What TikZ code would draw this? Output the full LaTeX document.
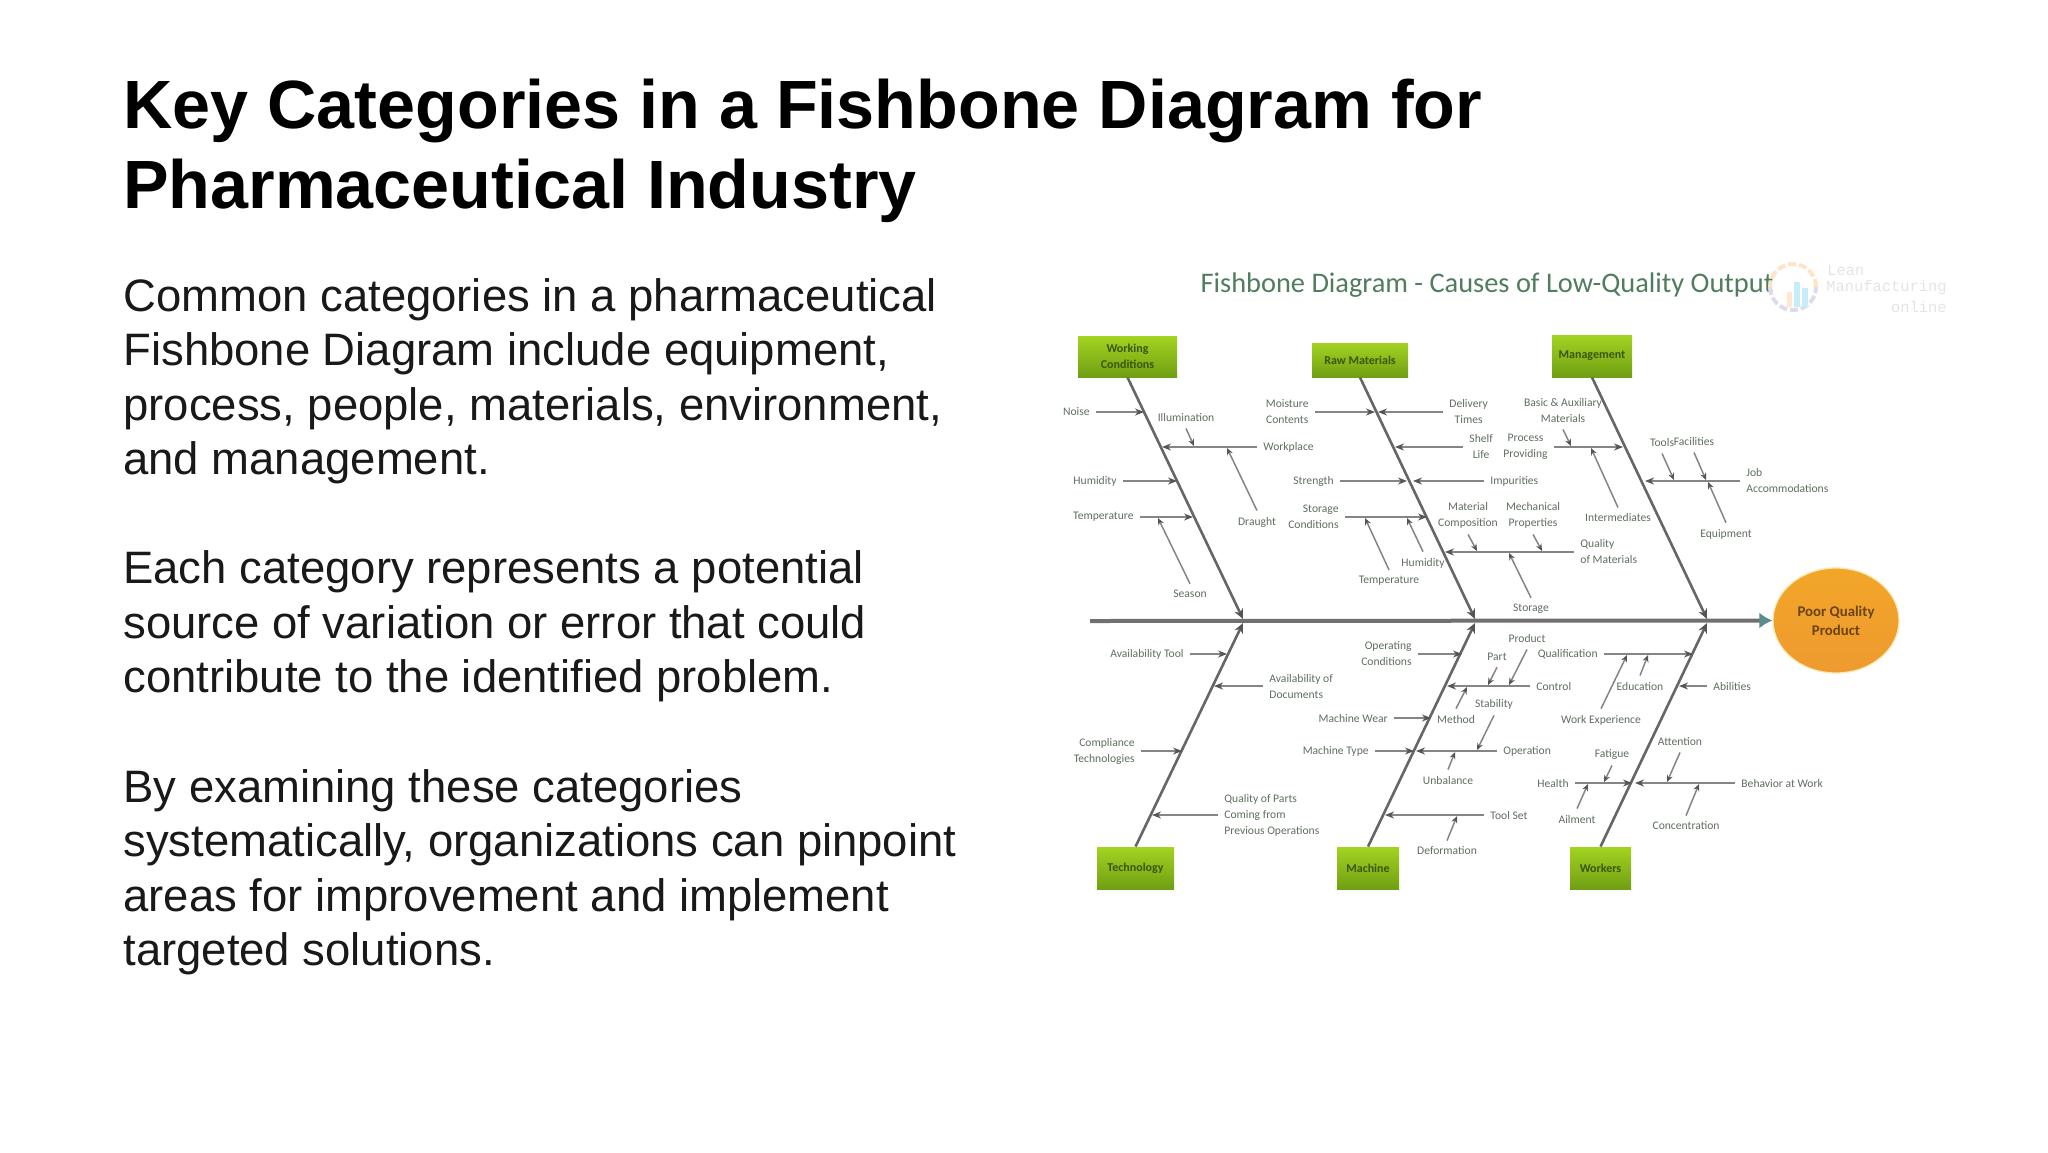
\documentclass[tikz,border=0pt]{standalone}
\usepackage{fontspec}
\setmainfont{Liberation Sans}
\newfontfamily\carlito{Carlito}
\newfontfamily\wmfont{Liberation Mono}
\usetikzlibrary{arrows.meta,shapes.geometric}
\definecolor{lblc}{HTML}{5F6F5F}
\definecolor{twigc}{HTML}{858585}
\definecolor{bonec}{HTML}{666666}
\definecolor{spinec}{HTML}{707070}
\definecolor{tipc}{HTML}{555555}
\definecolor{wmc}{HTML}{E2E5E8}
\definecolor{boxtop}{HTML}{A4D322}
\definecolor{boxbot}{HTML}{6F9F12}
\definecolor{boxtxt}{HTML}{3A5608}
\definecolor{headtop}{HTML}{F2A628}
\definecolor{headbot}{HTML}{EE9A30}
\definecolor{headedge}{HTML}{FBE8B0}
\definecolor{headtxt}{HTML}{6B4212}
\definecolor{ptitle}{HTML}{4F7D5E}
\definecolor{tealtip}{HTML}{5D8A8F}
\tikzset{
  slidetitle/.style={anchor=base west,align=left,inner sep=0pt,text=black,font=\fontsize{34.15}{40}\selectfont\bfseries},
  bodytext/.style={anchor=base west,align=left,inner sep=0pt,text=black!90,font=\fontsize{22.73}{27.25}\selectfont},
  lbl/.style={inner xsep=3pt,inner ysep=3pt,align=center,text=lblc,font=\carlito\fontsize{5.8}{8}\selectfont},
  catbox/.style={rectangle,inner sep=0pt,align=center,top color=boxtop,bottom color=boxbot,text=boxtxt,font=\carlito\bfseries\fontsize{6}{8.2}\selectfont},
  branchline/.style={draw=twigc,line width=.8pt,-{Stealth[length=4.5pt,width=3.5pt,color=tipc]}},
  twigline/.style={draw=twigc,line width=.75pt,-{Stealth[length=3.5pt,width=3pt,color=tipc]}},
  boneline/.style={draw=bonec,line width=1.3pt,-{Stealth[length=5pt,width=4.5pt,color=tipc]}},
  spineline/.style={draw=spinec,line width=2pt,-{Latex[length=6.5pt,width=8pt,color=tealtip]}},
  effect/.style={ellipse,inner sep=0pt,minimum width=63pt,minimum height=52.5pt,top color=headtop,bottom color=headbot,draw=headedge,line width=.6pt,align=center,text=headtxt,font=\carlito\bfseries\fontsize{7.4}{9.5}\selectfont},
  wmtext/.style={inner sep=0pt,text=wmc,font=\wmfont\fontsize{7.7}{9}\selectfont},
}
\newcommand{\branch}[5]{\node[lbl,#2] (#1) at (#3) {#4};\coordinate (#1j) at (#5);\draw[branchline] (#1) -- (#1j);}
\newcommand{\twig}[5]{\node[lbl] (#1) at (#3) {#4};\coordinate (#1j) at (#5);\draw[twigline] (#1.#2) -- (#1j);}
\begin{document}
\begin{tikzpicture}[x=0.5pt,y=-0.5pt]
\useasboundingbox[fill=white] (0,0) rectangle (2048,1152);

% slide text
\node[slidetitle] (title) at (123,208.5) {Key Categories in a Fishbone Diagram for\\Pharmaceutical Industry};
\node[bodytext] (para1) at (123,474.5) {Common categories in a pharmaceutical\\Fishbone Diagram include equipment,\\process, people, materials, environment,\\and management.};
\node[bodytext] (para2) at (123,692.5) {Each category represents a potential\\source of variation or error that could\\contribute to the identified problem.};
\node[bodytext] (para3) at (123,965.5) {By examining these categories\\systematically, organizations can pinpoint\\areas for improvement and implement\\targeted solutions.};

% picture title and watermark
\node[inner sep=0pt,text=ptitle,font=\carlito\fontsize{14.2}{17}\selectfont] (pictitle) at (1487,285) {Fishbone Diagram - Causes of Low-Quality Output};
\draw[blue!25!gray!22!white,line width=2pt,dash pattern=on 4pt off 1.5pt] (1770,287) arc (180:0:23);
\draw[orange!22!white,line width=2pt,dash pattern=on 4pt off 1.5pt] (1816,287) arc (0:-180:23);
\fill[orange!18!white] (1787,292) rectangle (1792,307);
\fill[cyan!22!white] (1794,282) rectangle (1800,307);
\fill[cyan!22!white] (1802,288) rectangle (1808,307);
\node[wmtext,anchor=west] (wm1) at (1827,270) {Lean};
\node[wmtext,anchor=east] (wm2) at (1947,288) {Manufacturing};
\node[wmtext,anchor=east] (wm3) at (1947,307) {online};

% head and spine
\node[effect] (effect) at (1836,620.5) {Poor Quality\\Product};
\coordinate (tail) at (1090,621);
\draw[spineline] (tail) -- (effect.west);

% category boxes
\node[catbox,minimum width=49.5pt,minimum height=20.5pt] (wc) at (1127.5,356.5) {Working\\Conditions};
\node[catbox,minimum width=48pt,minimum height=17pt] (rm) at (1360,360) {Raw Materials};
\node[catbox,minimum width=40pt,minimum height=21pt] (mg) at (1592,356) {Management};
\node[catbox,minimum width=38.5pt,minimum height=21pt] (te) at (1135.5,868) {Technology};
\node[catbox,minimum width=31pt,minimum height=21pt] (ma) at (1368,868) {Machine};
\node[catbox,minimum width=30.5pt,minimum height=21pt] (wo) at (1600.5,868) {Workers};

% bones
\coordinate (j1t) at (1243,619); \coordinate (j2t) at (1475,619); \coordinate (j3t) at (1707,619);
\coordinate (j1b) at (1243,623); \coordinate (j2b) at (1475,623); \coordinate (j3b) at (1707,623);
\draw[boneline] (wc.south) -- (j1t);
\draw[boneline] (rm.south) -- (j2t);
\draw[boneline] (mg.south) -- (j3t);
\draw[boneline] (te.north) -- (j1b);
\draw[boneline] (ma.north) -- (j2b);
\draw[boneline] (wo.north) -- (j3b);

% working conditions
\branch{noise}{anchor=east}{1096,412}{Noise}{1144,412}
\branch{workplace}{anchor=west}{1257,447}{Workplace}{1162,447}
\branch{humid}{anchor=east}{1123,481}{Humidity}{1177,481}
\branch{temp}{anchor=east}{1140,517}{Temperature}{1193,517}
\twig{illum}{south}{1186,418}{Illumination}{1194,446}
\twig{draught}{north}{1257,522}{Draught}{1227,448}
\twig{season}{north}{1190,594}{Season}{1158,518}

% raw materials
\branch{moist}{anchor=east}{1315,412}{Moisture\\Contents}{1375,412}
\branch{deliv}{anchor=west}{1443,412}{Delivery\\Times}{1378,412}
\branch{shelf}{anchor=west}{1463,447}{Shelf\\Life}{1395,447}
\branch{strength}{anchor=east}{1340,481}{Strength}{1407,481}
\branch{impur}{anchor=west}{1484,481}{Impurities}{1413,481}
\branch{storecond}{anchor=east,align=right}{1345,517}{Storage\\Conditions}{1427,517}
\branch{qualmat}{anchor=west,align=left}{1574,552}{Quality\\of Materials}{1445,552}
\twig{temptwo}{north}{1389,581}{Temperature}{1365,518}
\twig{humtwo}{north}{1423,563}{Humidity}{1407,518}
\twig{matcomp}{south}{1468,515}{Material\\Composition}{1477,551}
\twig{mechprop}{south}{1533,515}{Mechanical\\Properties}{1542,551}
\twig{storage}{north}{1531,609}{Storage}{1509,553}

% management
\branch{procprov}{anchor=east}{1554,447}{Process\\Providing}{1623,447}
\branch{jobacc}{anchor=west,align=left}{1740,481}{Job\\Accommodations}{1645,481}
\twig{basic}{south}{1563,411}{Basic \& Auxiliary\\Materials}{1571,446}
\twig{intermed}{north}{1618,518}{Intermediates}{1591,448}
\twig{tools}{south}{1662,443}{Tools}{1674,480}
\twig{facil}{south}{1694,442}{Facilities}{1706,480}
\twig{equip}{north}{1726,534}{Equipment}{1708,482}

% technology
\branch{availtool}{anchor=east}{1190,654}{Availability Tool}{1227,654}
\branch{availdoc}{anchor=west,align=left}{1263,686}{Availability of\\Documents}{1214,686}
\branch{compl}{anchor=east,align=right}{1141,751}{Compliance\\Technologies}{1182,751}
\branch{qualparts}{anchor=west,align=left}{1218,815}{Quality of Parts\\Coming from\\Previous Operations}{1152,815}

% machine
\branch{opcond}{anchor=east,align=right}{1418,654}{Operating\\Conditions}{1462,654}
\branch{control}{anchor=west}{1530,686}{Control}{1447,686}
\branch{mwear}{anchor=east}{1394,718}{Machine Wear}{1431,718}
\branch{mtype}{anchor=east}{1375,751}{Machine Type}{1414,751}
\branch{operation}{anchor=west}{1497,751}{Operation}{1416,751}
\branch{toolset}{anchor=west}{1484,815}{Tool Set}{1385,815}
\twig{part}{south}{1497,657}{Part}{1488,685}
\twig{product}{south}{1527,639}{Product}{1509,685}
\twig{method}{north}{1456,719}{Method}{1467,687}
\twig{stability}{south}{1494,704}{Stability}{1477,750}
\twig{unbal}{north}{1448,780}{Unbalance}{1455,752}
\twig{deform}{north}{1447,851}{Deformation}{1457,816}

% workers
\branch{qualif}{anchor=east}{1604,654}{Qualification}{1693,654}
\branch{abil}{anchor=west}{1707,686}{Abilities}{1679,686}
\branch{health}{anchor=east}{1575,783}{Health}{1632,783}
\branch{behav}{anchor=west}{1735,783}{Behavior at Work}{1635,783}
\twig{educ}{north}{1640,686}{Education}{1648,655}
\twig{workexp}{north}{1601,720}{Work Experience}{1627,655}
\twig{fatigue}{south}{1612,754}{Fatigue}{1604,782}
\twig{ailment}{north}{1577,819}{Ailment}{1588,784}
\twig{attention}{south}{1680,742}{Attention}{1667,782}
\twig{concen}{north}{1686,826}{Concentration}{1699,784}
\end{tikzpicture}
\end{document}
